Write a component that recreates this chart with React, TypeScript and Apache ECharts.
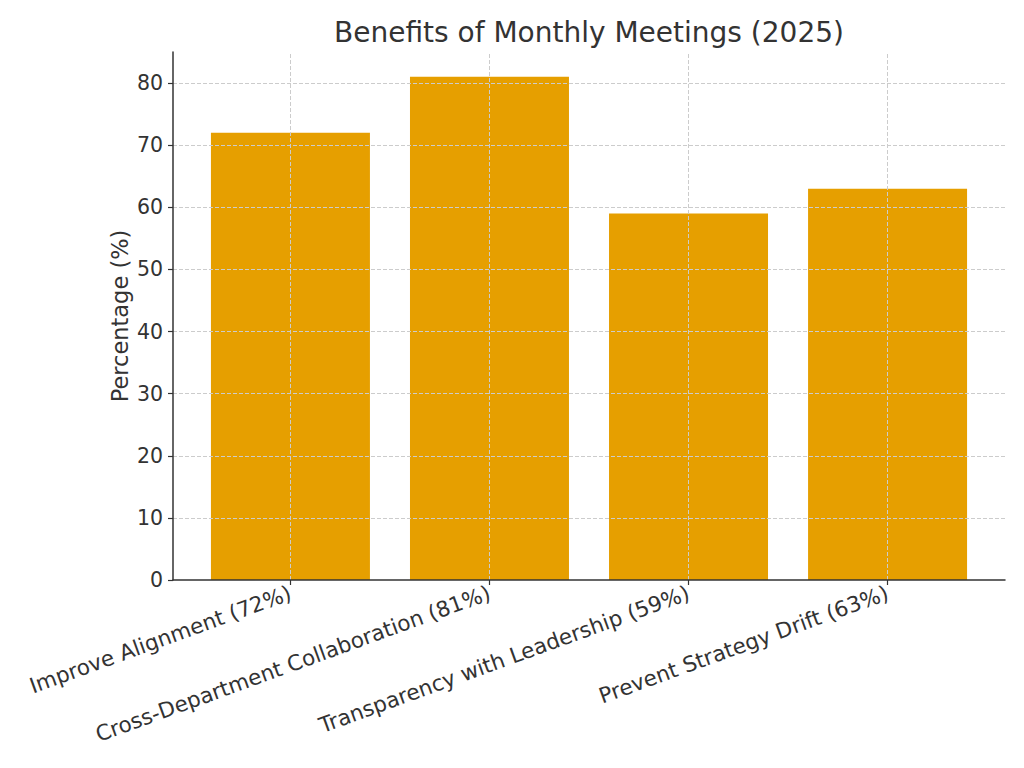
import React, { useEffect, useRef } from "react";
import * as echarts from "echarts";

const categories = [
  "Improve Alignment (72%)",
  "Cross-Department Collaboration (81%)",
  "Transparency with Leadership (59%)",
  "Prevent Strategy Drift (63%)",
];
const values = [72, 81, 59, 63];
const yTicks = [0, 10, 20, 30, 40, 50, 60, 70, 80];
const titleText = "Benefits of Monthly Meetings (2025)";
const yLabel = "Percentage (%)";

const FONT = "DejaVu Sans";
const TEXT = "#333333";
const GRID = "#cccccc";

export default function App() {
  const ref = useRef<HTMLDivElement>(null);
  useEffect(() => {
    const chart = echarts.init(ref.current!, null, { renderer: "svg" });
    const positions = categories.map((_, i) => i);
    chart.setOption({
      animation: false,
      backgroundColor: "#ffffff",
      textStyle: { fontFamily: FONT },
      grid: { left: 173, right: 19, top: 52, bottom: 188, containLabel: false },
      graphic: [
        {
          type: "text",
          x: 589,
          y: 32,
          style: {
            text: titleText,
            align: "center",
            verticalAlign: "middle",
            fontSize: 28,
            fontFamily: FONT,
            fill: TEXT,
          },
        },
        {
          type: "text",
          x: 120,
          y: 316,
          rotation: Math.PI / 2,
          style: {
            text: yLabel,
            align: "center",
            verticalAlign: "middle",
            fontSize: 22.5,
            fontFamily: FONT,
            fill: TEXT,
          },
        },
      ],
      xAxis: {
        type: "value",
        min: -0.59,
        max: 3.59,
        z: 10,
        axisLine: { show: true, onZero: false, lineStyle: { color: TEXT, width: 1.5 } },
        axisTick: {
          show: true,
          length: 5,
          customValues: positions,
          lineStyle: { color: TEXT, width: 1.2 },
        },
        axisLabel: {
          customValues: positions,
          formatter: (v: number) => categories[Math.round(v)] ?? "",
          rotate: 20,
          margin: 12,
          fontSize: 21.5,
          fontFamily: FONT,
          color: TEXT,
        },
        splitLine: { show: false },
      },
      yAxis: {
        type: "value",
        min: 0,
        max: 85,
        z: 10,
        axisLine: { show: true, onZero: false, lineStyle: { color: TEXT, width: 1.5 } },
        axisTick: {
          show: true,
          length: 5,
          customValues: yTicks,
          lineStyle: { color: TEXT, width: 1.2 },
        },
        axisLabel: {
          customValues: yTicks,
          margin: 10,
          fontSize: 20.5,
          fontFamily: FONT,
          color: TEXT,
        },
        splitLine: { show: false },
      },
      series: [
        {
          type: "bar",
          data: values.map((v, i) => [i, v]),
          barWidth: 159,
          itemStyle: { color: "#E69F00" },
          markLine: {
            silent: true,
            symbol: "none",
            label: { show: false },
            lineStyle: { color: GRID, type: [4, 2], width: 1 },
            data: [
              ...yTicks.filter((t) => t > 0).map((t) => ({ yAxis: t })),
              ...positions.map((p) => ({ xAxis: p })),
            ],
          },
        },
      ],
    });
    return () => chart.dispose();
  }, []);
  return (
    <div
      ref={ref}
      style={{ position: "fixed", left: 0, top: 0, width: 1024, height: 768 }}
    />
  );
}
